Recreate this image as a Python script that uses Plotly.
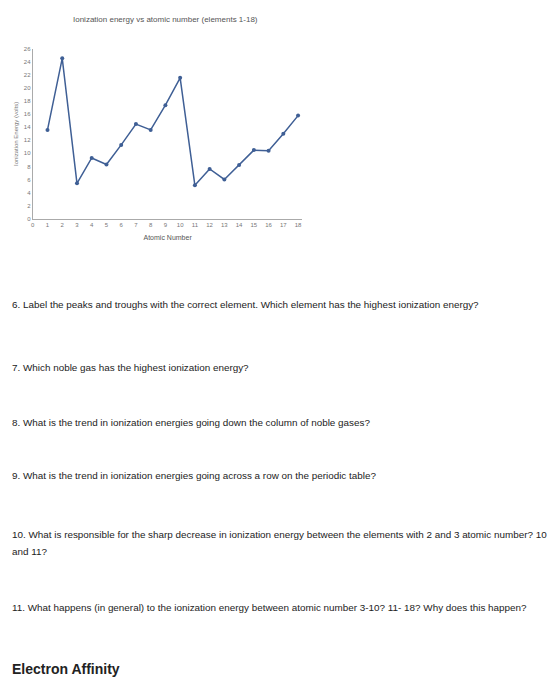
import plotly.graph_objects as go

atomic_number = list(range(1, 19))
ionization_ev = [13.6, 24.6, 5.4, 9.3, 8.3, 11.3, 14.5, 13.6, 17.4, 21.6,
                 5.1, 7.6, 6.0, 8.2, 10.5, 10.4, 13.0, 15.8]

questions = [
    (304, "6. Label the peaks and troughs with the correct element. Which element has the highest ionization energy?"),
    (365, "7. Which noble gas has the highest ionization energy?"),
    (419, "8. What is the trend in ionization energies going down the column of noble gases?"),
    (477, "9. What is the trend in ionization energies going across a row on the periodic table?"),
    (535, "10. What is responsible for the sharp decrease in ionization energy between the elements with 2 and 3 atomic number? 10"),
    (551, "and 11?"),
    (606, "11. What happens (in general) to the ionization energy between atomic number 3-10? 11- 18? Why does this happen?"),
]


def fx(x):
    return (x - 9) / 557


def fy(y):
    return 1 - (y - 17.7) / 676


fig = go.Figure()
fig.add_trace(go.Scatter(
    x=atomic_number, y=ionization_ev, mode='lines+markers',
    line=dict(color='#3f5f95', width=1.5),
    marker=dict(size=4, color='#3f5f95'),
))

fig.update_layout(
    width=557, height=700,
    margin=dict(l=0, r=0, t=0, b=0),
    paper_bgcolor='white', plot_bgcolor='white',
    showlegend=False,
    font=dict(family='Liberation Sans', color='#222'),
    xaxis=dict(domain=[0.041, 0.527], range=[0, 18.3], tickvals=list(range(0, 19)),
               showgrid=False, showline=True, linecolor='#aaa', zeroline=False,
               tickfont=dict(size=6, color='#777'),
               title=dict(text='Atomic Number', font=dict(size=7, color='#555'), standoff=8)),
    yaxis=dict(domain=[0.701, 0.945], range=[0, 26], dtick=2,
               showgrid=False, showline=True, linecolor='#aaa', zeroline=False,
               tickfont=dict(size=6, color='#777'),
               title=dict(text='Ionization Energy (volts)', font=dict(size=6, color='#777'), standoff=4)),
)

ann = [dict(text='Ionization energy vs atomic number (elements 1-18)', x=fx(165), y=fy(20),
            xref='paper', yref='paper', xanchor='center', showarrow=False,
            font=dict(size=8, color='#555'))]
for yy, t in questions:
    ann.append(dict(text=t, x=0, y=fy(yy), xref='paper', yref='paper',
                    xanchor='left', showarrow=False, font=dict(size=9.9, color='#222')))
ann.append(dict(text='<b>Electron Affinity</b>', x=0, y=fy(668), xref='paper', yref='paper',
                xanchor='left', showarrow=False, font=dict(size=14, color='#222')))
fig.update_layout(annotations=ann)

fig.write_html("out.html")
